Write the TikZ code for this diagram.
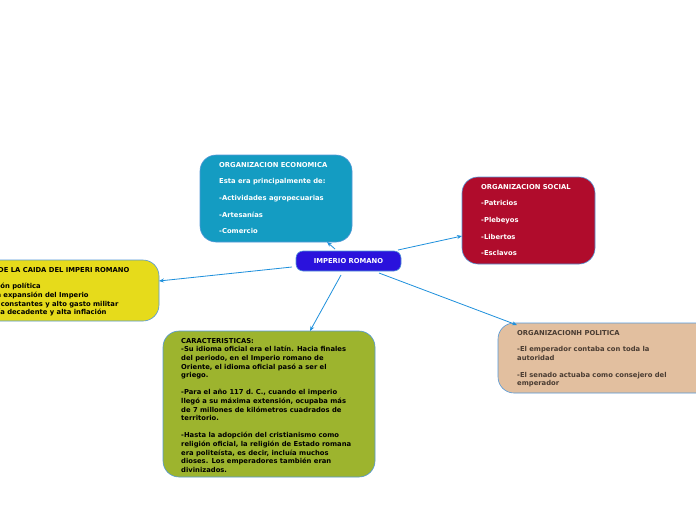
\documentclass[tikz,border=0pt]{standalone}
\usepackage{fontspec}
\setmainfont{DejaVu Sans}
\usetikzlibrary{arrows.meta}
\begin{document}
\begin{tikzpicture}[x=1pt,y=-1pt,
 box/.style={draw=cyan!60!blue!70, line width=0.6pt, rounded corners=16pt, anchor=north west, inner sep=0pt},
 txt/.style={anchor=north west, align=left, font=\fontsize{6.8}{8.6}\selectfont\bfseries, inner sep=0pt},
 con/.style={draw=conc, line width=0.8pt, -{Stealth[length=5pt,width=4pt]}}]
\definecolor{conc}{HTML}{1E90DC}
\definecolor{eco}{HTML}{149CC2}
\definecolor{soc}{HTML}{B00C2C}
\definecolor{cen}{HTML}{2A12DC}
\definecolor{cai}{HTML}{E6DB1B}
\definecolor{car}{HTML}{9DB42E}
\definecolor{pol}{HTML}{E2BF9F}
\definecolor{poltx}{HTML}{4A3C32}
\useasboundingbox (0,0) rectangle (696,520);
\clip (0,0) rectangle (696,520);
\fill[white] (0,0) rectangle (696,520);
% boxes
\draw[box, fill=eco] (200,155) rectangle (352,242);
\coordinate (eco) at (327,242);
\node[txt, text=white] at (219,162) {ORGANIZACION ECONOMICA\\[8pt]Esta era principalmente de:\\[8pt]-Actividades agropecuarias\\[8pt]-Artesanías\\[8pt]-Comercio};
\draw[box, fill=soc] (462,177) rectangle (595,264);
\coordinate (soc) at (462,236);
\node[txt, text=white] at (481,184) {ORGANIZACION SOCIAL\\[8pt]-Patricios\\[8pt]-Plebeyos\\[8pt]-Libertos\\[8pt]-Esclavos};
\draw[box, rounded corners=7pt, fill=cen] (296,251) rectangle (401,271);
\node[font=\fontsize{6.8}{7}\selectfont\bfseries, text=white] (cen) at (348.5,261.5) {IMPERIO ROMANO};
\draw[box, fill=cai] (-55,260) rectangle (159,321);
\coordinate (cai) at (159,281);
\node[txt] at (-35,267) {CAUSAS DE LA CAIDA DEL IMPERI ROMANO\\[8pt]-Corrupción política\\-Excesiva expansión del Imperio\\-Guerras constantes y alto gasto militar\\-Economía decadente y alta inflación};
\draw[box, fill=car] (163,331) rectangle (375,477);
\coordinate (car) at (310,331);
\node[txt] at (181,338) {CARACTERISTICAS:\\-Su idioma oficial era el latín. Hacia finales\\del periodo, en el Imperio romano de\\Oriente, el idioma oficial pasó a ser el\\griego.\\[8.6pt]-Para el año 117 d.\ C., cuando el imperio\\llegó a su máxima extensión, ocupaba más\\de 7 millones de kilómetros cuadrados de\\territorio.\\[8.6pt]-Hasta la adopción del cristianismo como\\religión oficial, la religión de Estado romana\\era politeísta, es decir, incluía muchos\\dioses. Los emperadores también eran\\divinizados.};
\draw[box, fill=pol] (498,323) rectangle (720,393);
\coordinate (pol) at (517,325);
\node[txt, text=poltx] at (517,330) {ORGANIZACIONH POLITICA\\[8pt]-El emperador contaba con toda la\\autoridad\\[8pt]-El senado actuaba como consejero del\\emperador};
% connectors
\coordinate (c1) at (292,267);
\coordinate (c2) at (341,275);
\coordinate (c3) at (379,273);
\coordinate (c4) at (398,250);
\coordinate (c5) at (335,249);
\draw[con] (c1) -- (cai);
\draw[con] (c2) -- (car);
\draw[con] (c3) -- (pol);
\draw[con] (c4) -- (soc);
\draw[con] (c5) -- (eco);
\end{tikzpicture}
\end{document}
